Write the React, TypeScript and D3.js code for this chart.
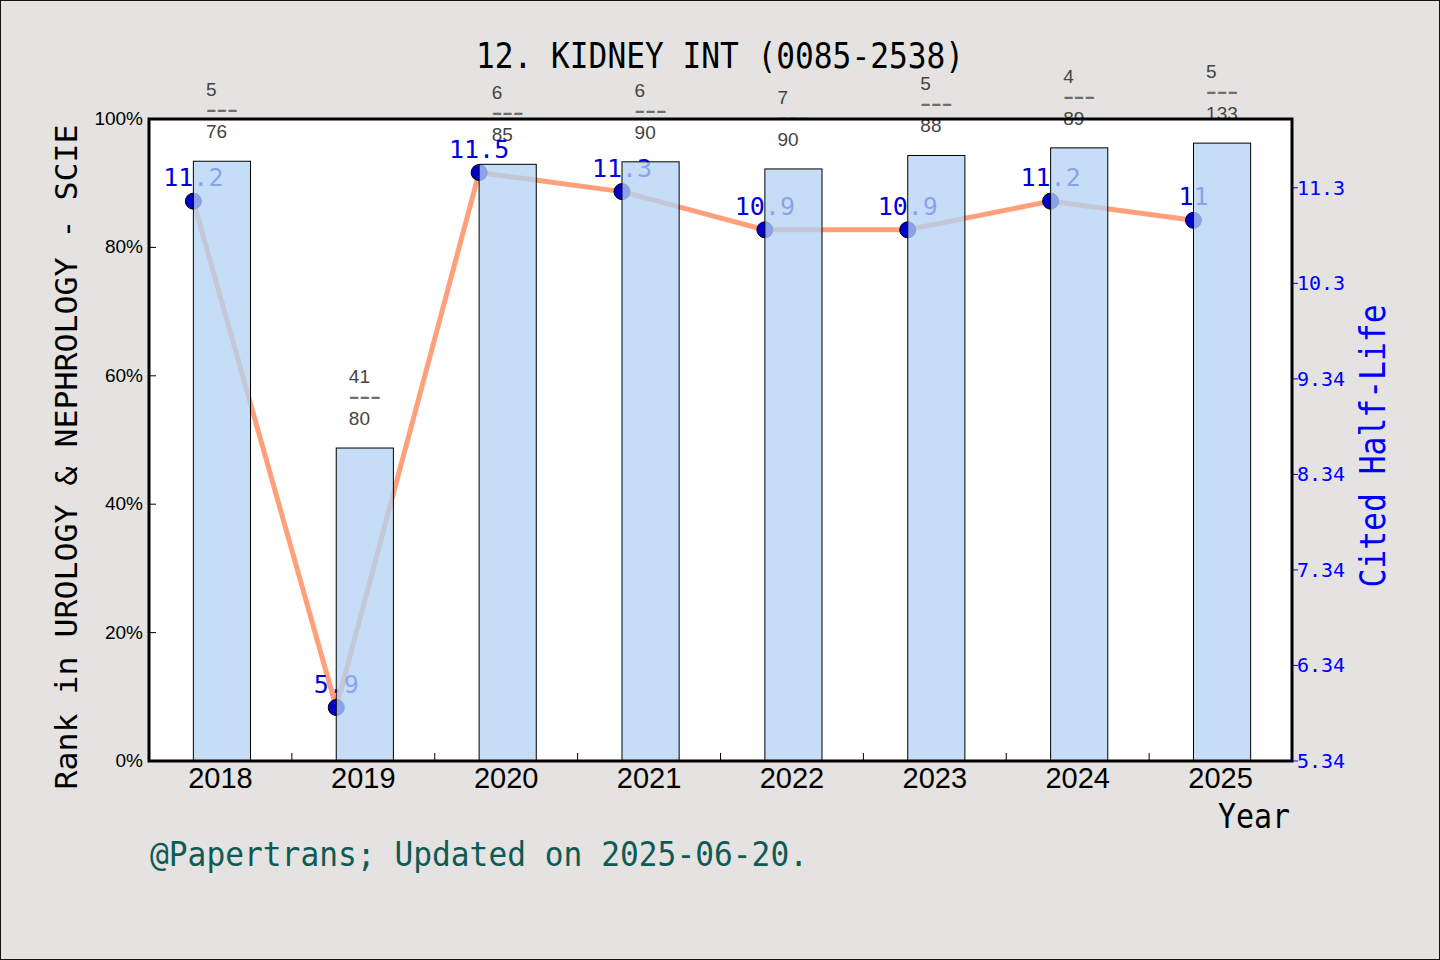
import React from "react";
import * as d3 from "d3";

const years = ["2018", "2019", "2020", "2021", "2022", "2023", "2024", "2025"];
const ranks = [5, 41, 6, 6, 7, 5, 4, 5];
const totals = [76, 80, 85, 90, 90, 88, 89, 133];
const halfLife = [11.2, 5.9, 11.5, 11.3, 10.9, 10.9, 11.2, 11];
const halfLifeLabels = ["11.2", "5.9", "11.5", "11.3", "10.9", "10.9", "11.2", "11"];
const leftTicks = [0, 0.2, 0.4, 0.6, 0.8, 1.0];

const W = 1440;
const H = 960;
const margin = { top: 119, right: 148, bottom: 199, left: 149 };
const bg = "#e4e3e1";
const mono = "'DejaVu Sans Mono', monospace";
const sans = "'Liberation Sans', Arial, sans-serif";
const barShift = 1.5; // bars sit a hair right of the band centre

export default function App() {
  const x0 = margin.left;
  const x1 = W - margin.right;
  const y0 = H - margin.bottom;
  const y1 = margin.top;

  const x = d3.scaleBand<string>().domain(years).range([x0, x1]).padding(0);
  const bw = x.bandwidth() * 0.4;
  const cx = (yr: string) => (x(yr) as number) + x.bandwidth() / 2;

  const yL = d3.scaleLinear().domain([0, 1]).range([y0, y1]);

  const [hMin, hMax] = d3.extent(halfLife) as [number, number];
  const pad = (hMax - hMin) * 0.1;
  const yR = d3.scaleLinear().domain([hMin - pad, hMax + pad]).range([y0, y1]);
  const rightTicks = d3.range(0, 7).map((k) => hMin - pad + k);
  const fmtR = d3.format(".3");

  const pct = ranks.map((r, i) => 1 - r / totals[i]);
  const px = (i: number) => cx(years[i]) - bw / 2 + barShift;

  const line = d3
    .line<number>()
    .x((_, i) => px(i))
    .y((d) => yR(d));

  return (
    <svg
      width={W}
      height={H}
      style={{ position: "absolute", top: 0, left: 0, display: "block" }}
    >
      <rect x={0} y={0} width={W} height={H} fill={bg} stroke="#111" strokeWidth={2} />
      <rect x={x0} y={y1} width={x1 - x0} height={y0 - y1} fill="#fff" />

      <text
        x={W / 2}
        y={68}
        textAnchor="middle"
        fontFamily={mono}
        fontSize={36}
        textLength={488}
        lengthAdjust="spacingAndGlyphs"
        fill="#000"
      >
        12. KIDNEY INT (0085-2538)
      </text>

      {/* rank annotations above bars */}
      <g fontFamily={sans} fontSize={19}>
        {years.map((yr, i) => {
          const top = yL(pct[i]);
          const lx = cx(yr) - 16 + barShift;
          return (
            <g key={yr}>
              <text x={lx} y={top - 65} fill="#444">
                {ranks[i]}
              </text>
              <text
                x={lx}
                y={top - 45}
                fill="#6e6e6e"
                fontWeight="bold"
                textLength={32}
                lengthAdjust="spacingAndGlyphs"
              >
                ---
              </text>
              <text x={lx} y={top - 23} fill="#444">
                {totals[i]}
              </text>
            </g>
          );
        })}
      </g>

      {/* half-life line */}
      <path d={line(halfLife) || ""} fill="none" stroke="#ffa07a" strokeWidth={5} />
      <g>
        {halfLife.map((v, i) => (
          <circle key={i} cx={px(i)} cy={yR(v)} r={8} fill="#0000cd" stroke="#000" strokeWidth={1} />
        ))}
      </g>
      <g fontFamily={mono} fontSize={25} fill="#0000dd" textAnchor="middle">
        {halfLife.map((v, i) => (
          <text key={i} x={px(i)} y={yR(v) - 15}>
            {halfLifeLabels[i]}
          </text>
        ))}
      </g>

      {/* bars */}
      <g>
        {years.map((yr, i) => (
          <rect
            key={yr}
            x={cx(yr) - bw / 2 + barShift}
            y={yL(pct[i])}
            width={bw}
            height={y0 - yL(pct[i])}
            fill="rgba(180,211,243,0.77)"
            stroke="#000"
            strokeWidth={1}
          />
        ))}
      </g>

      {/* x ticks at band boundaries */}
      <g stroke="#000" strokeWidth={1}>
        {years.slice(1).map((yr) => (
          <line key={yr} x1={x(yr)} x2={x(yr)} y1={y0} y2={y0 - 8} />
        ))}
        {leftTicks.map((t) => (
          <line key={t} x1={x0} x2={x0 + 7} y1={yL(t)} y2={yL(t)} />
        ))}
      </g>
      <g stroke="#0000ff" strokeWidth={1}>
        {rightTicks.map((t) => (
          <line key={t} x1={x1} x2={x1 + 6} y1={yR(t)} y2={yR(t)} />
        ))}
      </g>

      {/* spines */}
      <rect x={x0} y={y1} width={x1 - x0} height={y0 - y1} fill="none" stroke="#000" strokeWidth={3} />

      <g fontFamily={sans} fontSize={29} textAnchor="middle" fill="#000">
        {years.map((yr) => (
          <text key={yr} x={cx(yr)} y={788}>
            {yr}
          </text>
        ))}
      </g>
      <g fontFamily={sans} fontSize={19} textAnchor="end" fill="#000">
        {leftTicks.map((t) => (
          <text key={t} x={143} y={yL(t) + 6}>
            {d3.format(".0%")(t)}
          </text>
        ))}
      </g>
      <g fontFamily={mono} fontSize={20} fill="#0000ff">
        {rightTicks.map((t) => (
          <text key={t} x={x1 + 5} y={yR(t) + 7}>
            {fmtR(t)}
          </text>
        ))}
      </g>

      <text
        x={1290}
        y={828}
        textAnchor="end"
        fontFamily={mono}
        fontSize={34}
        textLength={72}
        lengthAdjust="spacingAndGlyphs"
      >
        Year
      </text>

      <text
        transform={`translate(77,457) rotate(-90)`}
        textAnchor="middle"
        fontFamily={mono}
        fontSize={31}
        textLength={665}
        lengthAdjust="spacingAndGlyphs"
        fill="#000"
      >
        Rank in UROLOGY &amp; NEPHROLOGY - SCIE
      </text>

      <text
        transform={`translate(1385,446) rotate(-90)`}
        textAnchor="middle"
        fontFamily={mono}
        fontSize={35}
        textLength={283}
        lengthAdjust="spacingAndGlyphs"
        fill="#0000ff"
      >
        Cited Half-Life
      </text>

      <text
        x={150}
        y={866}
        fontFamily={mono}
        fontSize={33}
        textLength={658}
        lengthAdjust="spacingAndGlyphs"
        fill="#0f5a55"
      >
        @Papertrans; Updated on 2025-06-20.
      </text>
    </svg>
  );
}
